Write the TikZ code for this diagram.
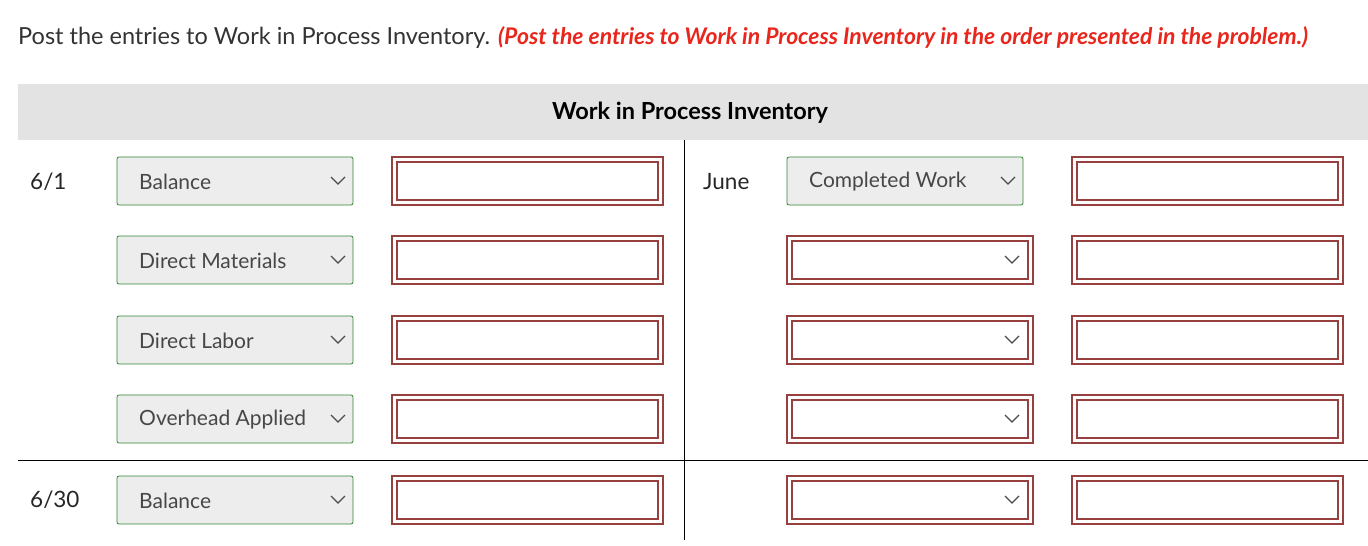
\documentclass[tikz,border=0pt]{standalone}
\usepackage{fontspec}
\setmainfont{Lato}
\begin{document}
\begin{tikzpicture}[x=1pt,y=-1pt,
  redc/.style={draw=red!45!black!75!white,line width=1.6pt},
  ddgreen/.style={draw=green!40!black!80!white,fill=black!7,line width=0.8pt,rounded corners=2pt},
  ddtext/.style={anchor=west,inner sep=0,font=\fontsize{21}{25}\selectfont,text=black!72},
  lbl/.style={anchor=west,inner sep=0,font=\fontsize{22.5}{27}\selectfont,text=black!85},
  chev/.style={draw=black!70,line width=1.1pt}]
\useasboundingbox (0,0) rectangle (1368,546);
\fill[white] (0,0) rectangle (1368,546);
\node[anchor=base west,font=\fontsize{23.5}{27}\selectfont,text=black!80,inner sep=0] (title) at (18,44)
 {Post the entries to Work in Process Inventory. {\color[HTML]{E8261C}\bfseries\itshape\fontsize{22.9}{27}\selectfont (Post the entries to Work in Process Inventory in the order presented in the problem.)}};
\fill[black!11] (18,84) rectangle (1368,140);
\node[font=\fontsize{23.5}{28}\selectfont\bfseries] (hdr) at (690,113) {Work in Process Inventory};
\coordinate (vt) at (684,140); \coordinate (vb) at (684,540);
\draw[black,line width=0.8pt] (vt) -- (vb);
\coordinate (hl) at (18,460); \coordinate (hr) at (1368,460);
\draw[black,line width=0.8pt] (hl) -- (hr);
\node[lbl] (d1) at (30,182) {6/1};
\node[lbl] (d2) at (30,500) {6/30};
\node[lbl] (jn) at (703,182) {June};
\foreach \y/\t in {181/Balance,260/Direct Materials,340/Direct Labor,419/Overhead Applied,500/Balance}{
  \draw[ddgreen] (117,\y-24) rectangle (353,\y+24);
  \node[ddtext] at (139,\y+1) {\t};
  \draw[chev] (331,\y-4) -- (338,\y+3) -- (345,\y-4);
  \draw[redc] (392,\y-24) rectangle (663,\y+24);
  \draw[redc] (397,\y-19) rectangle (658,\y+19);
  \draw[redc] (1072,\y-24) rectangle (1343,\y+24);
  \draw[redc] (1077,\y-19) rectangle (1338,\y+19);
}
\draw[ddgreen] (787,157) rectangle (1023,205);
\node[ddtext] (cw) at (809,182) {Completed Work};
\draw[chev] (1001,177) -- (1008,184) -- (1015,177);
\foreach \y in {260,340,419,500}{
  \draw[redc] (787,\y-24) rectangle (1033,\y+24);
  \draw[redc] (792,\y-19) rectangle (1028,\y+19);
  \draw[chev] (1005,\y-4) -- (1012,\y+3) -- (1019,\y-4);
}
\end{tikzpicture}
\end{document}
